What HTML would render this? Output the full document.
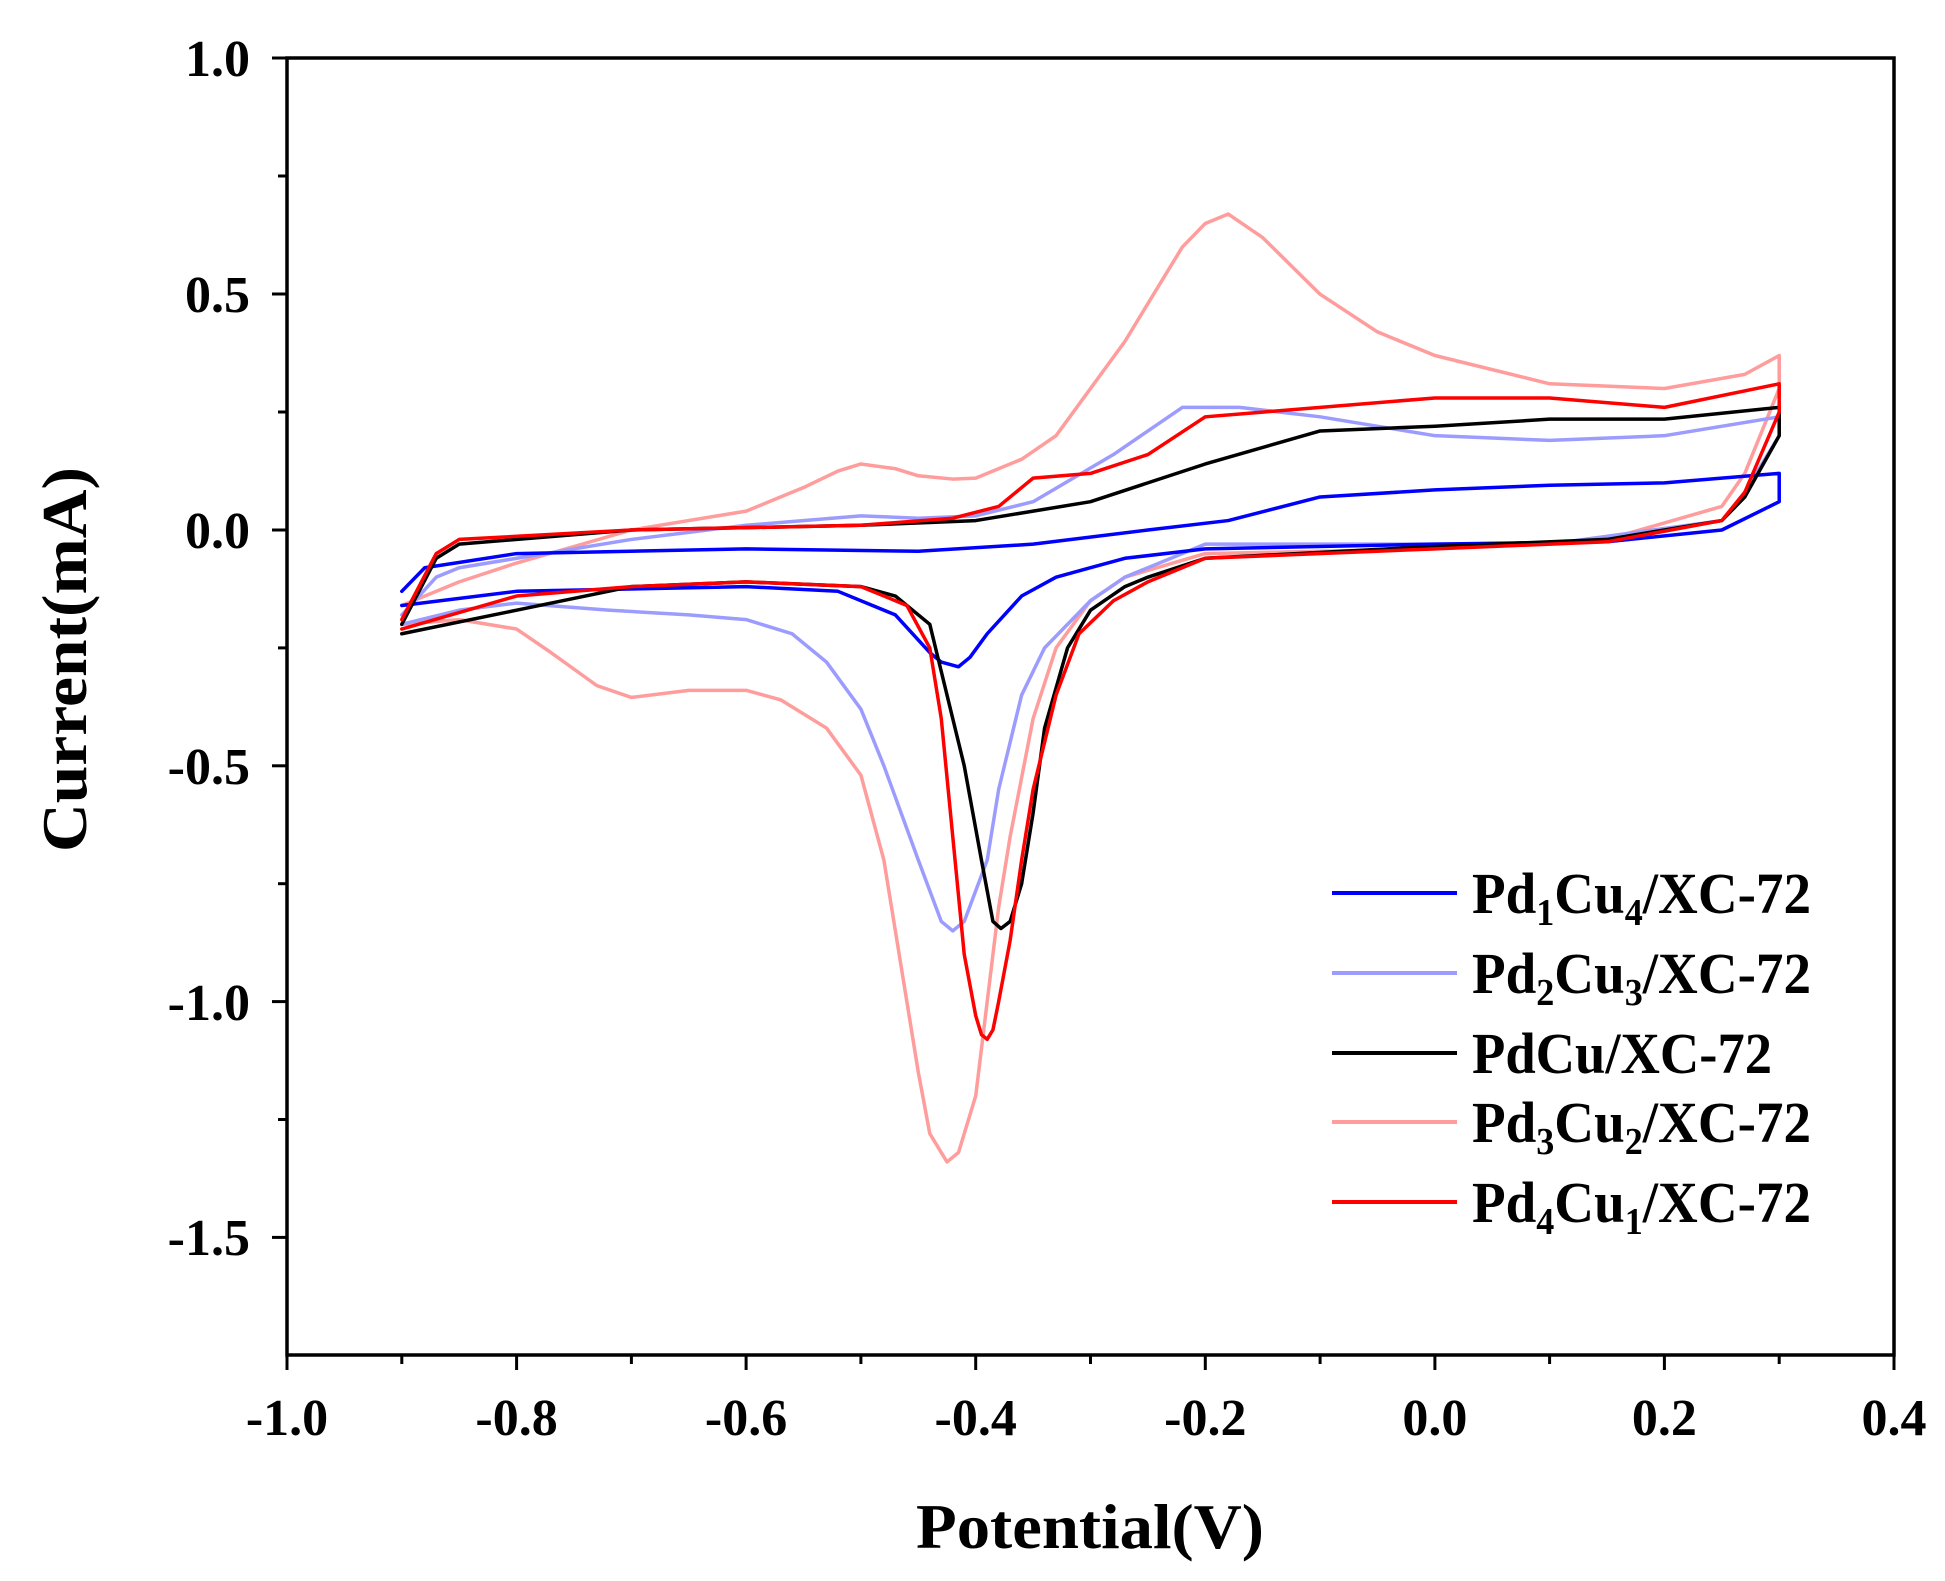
<!DOCTYPE html>
<html><head><meta charset="utf-8"><style>
html,body{margin:0;padding:0;background:#fff;}
svg{display:block;}
text{font-family:"Liberation Serif",serif;font-weight:bold;fill:#000;}
</style></head><body>
<svg width="1945" height="1581" viewBox="0 0 1945 1581" xmlns="http://www.w3.org/2000/svg">
<rect width="1945" height="1581" fill="#fff"/>
<g transform="translate(1434.86,530) scale(1147.86,-471.6)" fill="none" stroke-linejoin="round" stroke-linecap="round">
<polyline vector-effect="non-scaling-stroke" stroke="#ff9c9c" stroke-width="3.5" points="-0.9,-0.16 -0.85,-0.11 -0.8,-0.07 -0.7,0.0 -0.6,0.04 -0.55,0.09 -0.52,0.125 -0.5,0.14 -0.47,0.13 -0.45,0.115 -0.42,0.108 -0.4,0.11 -0.36,0.15 -0.33,0.2 -0.27,0.4 -0.22,0.6 -0.2,0.65 -0.18,0.67 -0.15,0.62 -0.1,0.5 -0.05,0.42 0,0.37 0.1,0.31 0.2,0.3 0.27,0.33 0.3,0.37 0.3,0.3 0.27,0.12 0.25,0.05 0.15,-0.02 0,-0.04 -0.2,-0.05 -0.27,-0.1 -0.3,-0.15 -0.33,-0.25 -0.35,-0.4 -0.37,-0.65 -0.38,-0.8 -0.4,-1.2 -0.415,-1.32 -0.425,-1.34 -0.44,-1.28 -0.45,-1.15 -0.47,-0.85 -0.48,-0.7 -0.5,-0.52 -0.53,-0.42 -0.57,-0.36 -0.6,-0.34 -0.65,-0.34 -0.7,-0.355 -0.73,-0.33 -0.77,-0.26 -0.8,-0.21 -0.85,-0.19 -0.9,-0.2"/>
<polyline vector-effect="non-scaling-stroke" stroke="#9c9cff" stroke-width="3.5" points="-0.9,-0.18 -0.87,-0.1 -0.85,-0.08 -0.7,-0.02 -0.6,0.01 -0.5,0.03 -0.45,0.025 -0.4,0.03 -0.35,0.06 -0.28,0.16 -0.22,0.26 -0.17,0.26 -0.1,0.24 0,0.2 0.1,0.19 0.2,0.2 0.3,0.24 0.3,0.2 0.27,0.08 0.25,0.02 0.1,-0.03 -0.2,-0.03 -0.27,-0.1 -0.3,-0.15 -0.34,-0.25 -0.36,-0.35 -0.38,-0.55 -0.39,-0.7 -0.41,-0.83 -0.42,-0.85 -0.43,-0.83 -0.45,-0.7 -0.48,-0.5 -0.5,-0.38 -0.53,-0.28 -0.56,-0.22 -0.6,-0.19 -0.65,-0.18 -0.72,-0.17 -0.8,-0.155 -0.85,-0.17 -0.9,-0.2"/>
<polyline vector-effect="non-scaling-stroke" stroke="#0000ff" stroke-width="3.5" points="-0.9,-0.13 -0.88,-0.08 -0.8,-0.05 -0.6,-0.04 -0.45,-0.045 -0.35,-0.03 -0.25,0 -0.18,0.02 -0.1,0.07 0,0.085 0.1,0.095 0.2,0.1 0.3,0.12 0.3,0.06 0.25,0.0 0.15,-0.025 0,-0.03 -0.2,-0.04 -0.27,-0.06 -0.3,-0.08 -0.33,-0.1 -0.36,-0.14 -0.39,-0.22 -0.405,-0.27 -0.415,-0.29 -0.43,-0.28 -0.44,-0.26 -0.47,-0.18 -0.52,-0.13 -0.6,-0.12 -0.8,-0.13 -0.9,-0.16"/>
<polyline vector-effect="non-scaling-stroke" stroke="#000" stroke-width="3.5" points="-0.9,-0.2 -0.87,-0.06 -0.85,-0.03 -0.7,0 -0.5,0.01 -0.4,0.02 -0.3,0.06 -0.2,0.14 -0.1,0.21 0,0.22 0.1,0.235 0.2,0.235 0.3,0.26 0.3,0.2 0.27,0.07 0.25,0.02 0.15,-0.02 0,-0.035 -0.2,-0.06 -0.25,-0.1 -0.27,-0.12 -0.3,-0.17 -0.32,-0.25 -0.34,-0.42 -0.35,-0.6 -0.36,-0.75 -0.37,-0.83 -0.378,-0.845 -0.385,-0.83 -0.395,-0.7 -0.41,-0.5 -0.43,-0.3 -0.44,-0.2 -0.47,-0.14 -0.5,-0.12 -0.6,-0.11 -0.7,-0.12 -0.8,-0.17 -0.9,-0.22"/>
<polyline vector-effect="non-scaling-stroke" stroke="#ff0000" stroke-width="3.5" points="-0.9,-0.19 -0.87,-0.05 -0.85,-0.02 -0.7,0.0 -0.5,0.01 -0.42,0.025 -0.38,0.05 -0.36,0.09 -0.35,0.11 -0.3,0.12 -0.25,0.16 -0.2,0.24 -0.15,0.25 0,0.28 0.1,0.28 0.2,0.26 0.3,0.31 0.3,0.25 0.27,0.08 0.25,0.02 0.15,-0.025 0,-0.04 -0.2,-0.06 -0.25,-0.11 -0.28,-0.15 -0.31,-0.22 -0.33,-0.35 -0.35,-0.55 -0.36,-0.7 -0.37,-0.87 -0.38,-1.0 -0.385,-1.06 -0.39,-1.08 -0.395,-1.07 -0.4,-1.03 -0.41,-0.9 -0.42,-0.65 -0.43,-0.4 -0.44,-0.25 -0.46,-0.16 -0.5,-0.12 -0.6,-0.11 -0.7,-0.12 -0.8,-0.14 -0.9,-0.21"/>
</g>
<rect x="287" y="58" width="1607" height="1297" fill="none" stroke="#000" stroke-width="3.5"/>
<g stroke="#000" stroke-width="3">
<line x1="287" y1="1355" x2="287" y2="1370"/><line x1="516.6" y1="1355" x2="516.6" y2="1370"/><line x1="746.1" y1="1355" x2="746.1" y2="1370"/><line x1="975.7" y1="1355" x2="975.7" y2="1370"/><line x1="1205.3" y1="1355" x2="1205.3" y2="1370"/><line x1="1434.9" y1="1355" x2="1434.9" y2="1370"/><line x1="1664.4" y1="1355" x2="1664.4" y2="1370"/><line x1="1894" y1="1355" x2="1894" y2="1370"/>
<line x1="401.8" y1="1355" x2="401.8" y2="1364"/><line x1="631.4" y1="1355" x2="631.4" y2="1364"/><line x1="860.9" y1="1355" x2="860.9" y2="1364"/><line x1="1090.5" y1="1355" x2="1090.5" y2="1364"/><line x1="1320.1" y1="1355" x2="1320.1" y2="1364"/><line x1="1549.6" y1="1355" x2="1549.6" y2="1364"/><line x1="1779.2" y1="1355" x2="1779.2" y2="1364"/>
<line x1="272" y1="58" x2="287" y2="58"/><line x1="272" y1="294" x2="287" y2="294"/><line x1="272" y1="530" x2="287" y2="530"/><line x1="272" y1="765.8" x2="287" y2="765.8"/><line x1="272" y1="1001.6" x2="287" y2="1001.6"/><line x1="272" y1="1237.4" x2="287" y2="1237.4"/>
<line x1="278" y1="176" x2="287" y2="176"/><line x1="278" y1="412" x2="287" y2="412"/><line x1="278" y1="647.9" x2="287" y2="647.9"/><line x1="278" y1="883.7" x2="287" y2="883.7"/><line x1="278" y1="1119.5" x2="287" y2="1119.5"/>
</g>
<g font-size="52" text-anchor="end">
<text x="250" y="76">1.0</text><text x="250" y="312">0.5</text><text x="250" y="548">0.0</text><text x="250" y="784">-0.5</text><text x="250" y="1020">-1.0</text><text x="250" y="1255">-1.5</text>
</g>
<g font-size="52" text-anchor="middle">
<text x="287" y="1435">-1.0</text><text x="516.6" y="1435">-0.8</text><text x="746.1" y="1435">-0.6</text><text x="975.7" y="1435">-0.4</text><text x="1205.3" y="1435">-0.2</text><text x="1434.9" y="1435">0.0</text><text x="1664.4" y="1435">0.2</text><text x="1894" y="1435">0.4</text>
</g>
<text x="916" y="1548" font-size="64" textLength="348" lengthAdjust="spacingAndGlyphs">Potential(V)</text>
<text transform="translate(86,852) rotate(-90)" font-size="64" textLength="385" lengthAdjust="spacingAndGlyphs">Current(mA)</text>
<g stroke-width="4">
<line x1="1332" y1="893" x2="1457" y2="893" stroke="#0000ff"/>
<line x1="1332" y1="973" x2="1457" y2="973" stroke="#9c9cff"/>
<line x1="1332" y1="1053" x2="1457" y2="1053" stroke="#000"/>
<line x1="1332" y1="1122" x2="1457" y2="1122" stroke="#ff9c9c"/>
<line x1="1332" y1="1202" x2="1457" y2="1202" stroke="#ff0000"/>
</g>
<g font-size="58">
<text x="1472" y="913" textLength="339" lengthAdjust="spacingAndGlyphs">Pd<tspan font-size="38" dy="12">1</tspan><tspan dy="-12">Cu</tspan><tspan font-size="38" dy="12">4</tspan><tspan dy="-12">/XC-72</tspan></text>
<text x="1472" y="993" textLength="339" lengthAdjust="spacingAndGlyphs">Pd<tspan font-size="38" dy="12">2</tspan><tspan dy="-12">Cu</tspan><tspan font-size="38" dy="12">3</tspan><tspan dy="-12">/XC-72</tspan></text>
<text x="1472" y="1073" textLength="300" lengthAdjust="spacingAndGlyphs">PdCu/XC-72</text>
<text x="1472" y="1142" textLength="339" lengthAdjust="spacingAndGlyphs">Pd<tspan font-size="38" dy="12">3</tspan><tspan dy="-12">Cu</tspan><tspan font-size="38" dy="12">2</tspan><tspan dy="-12">/XC-72</tspan></text>
<text x="1472" y="1222" textLength="339" lengthAdjust="spacingAndGlyphs">Pd<tspan font-size="38" dy="12">4</tspan><tspan dy="-12">Cu</tspan><tspan font-size="38" dy="12">1</tspan><tspan dy="-12">/XC-72</tspan></text>
</g>
</svg>
</body></html>
